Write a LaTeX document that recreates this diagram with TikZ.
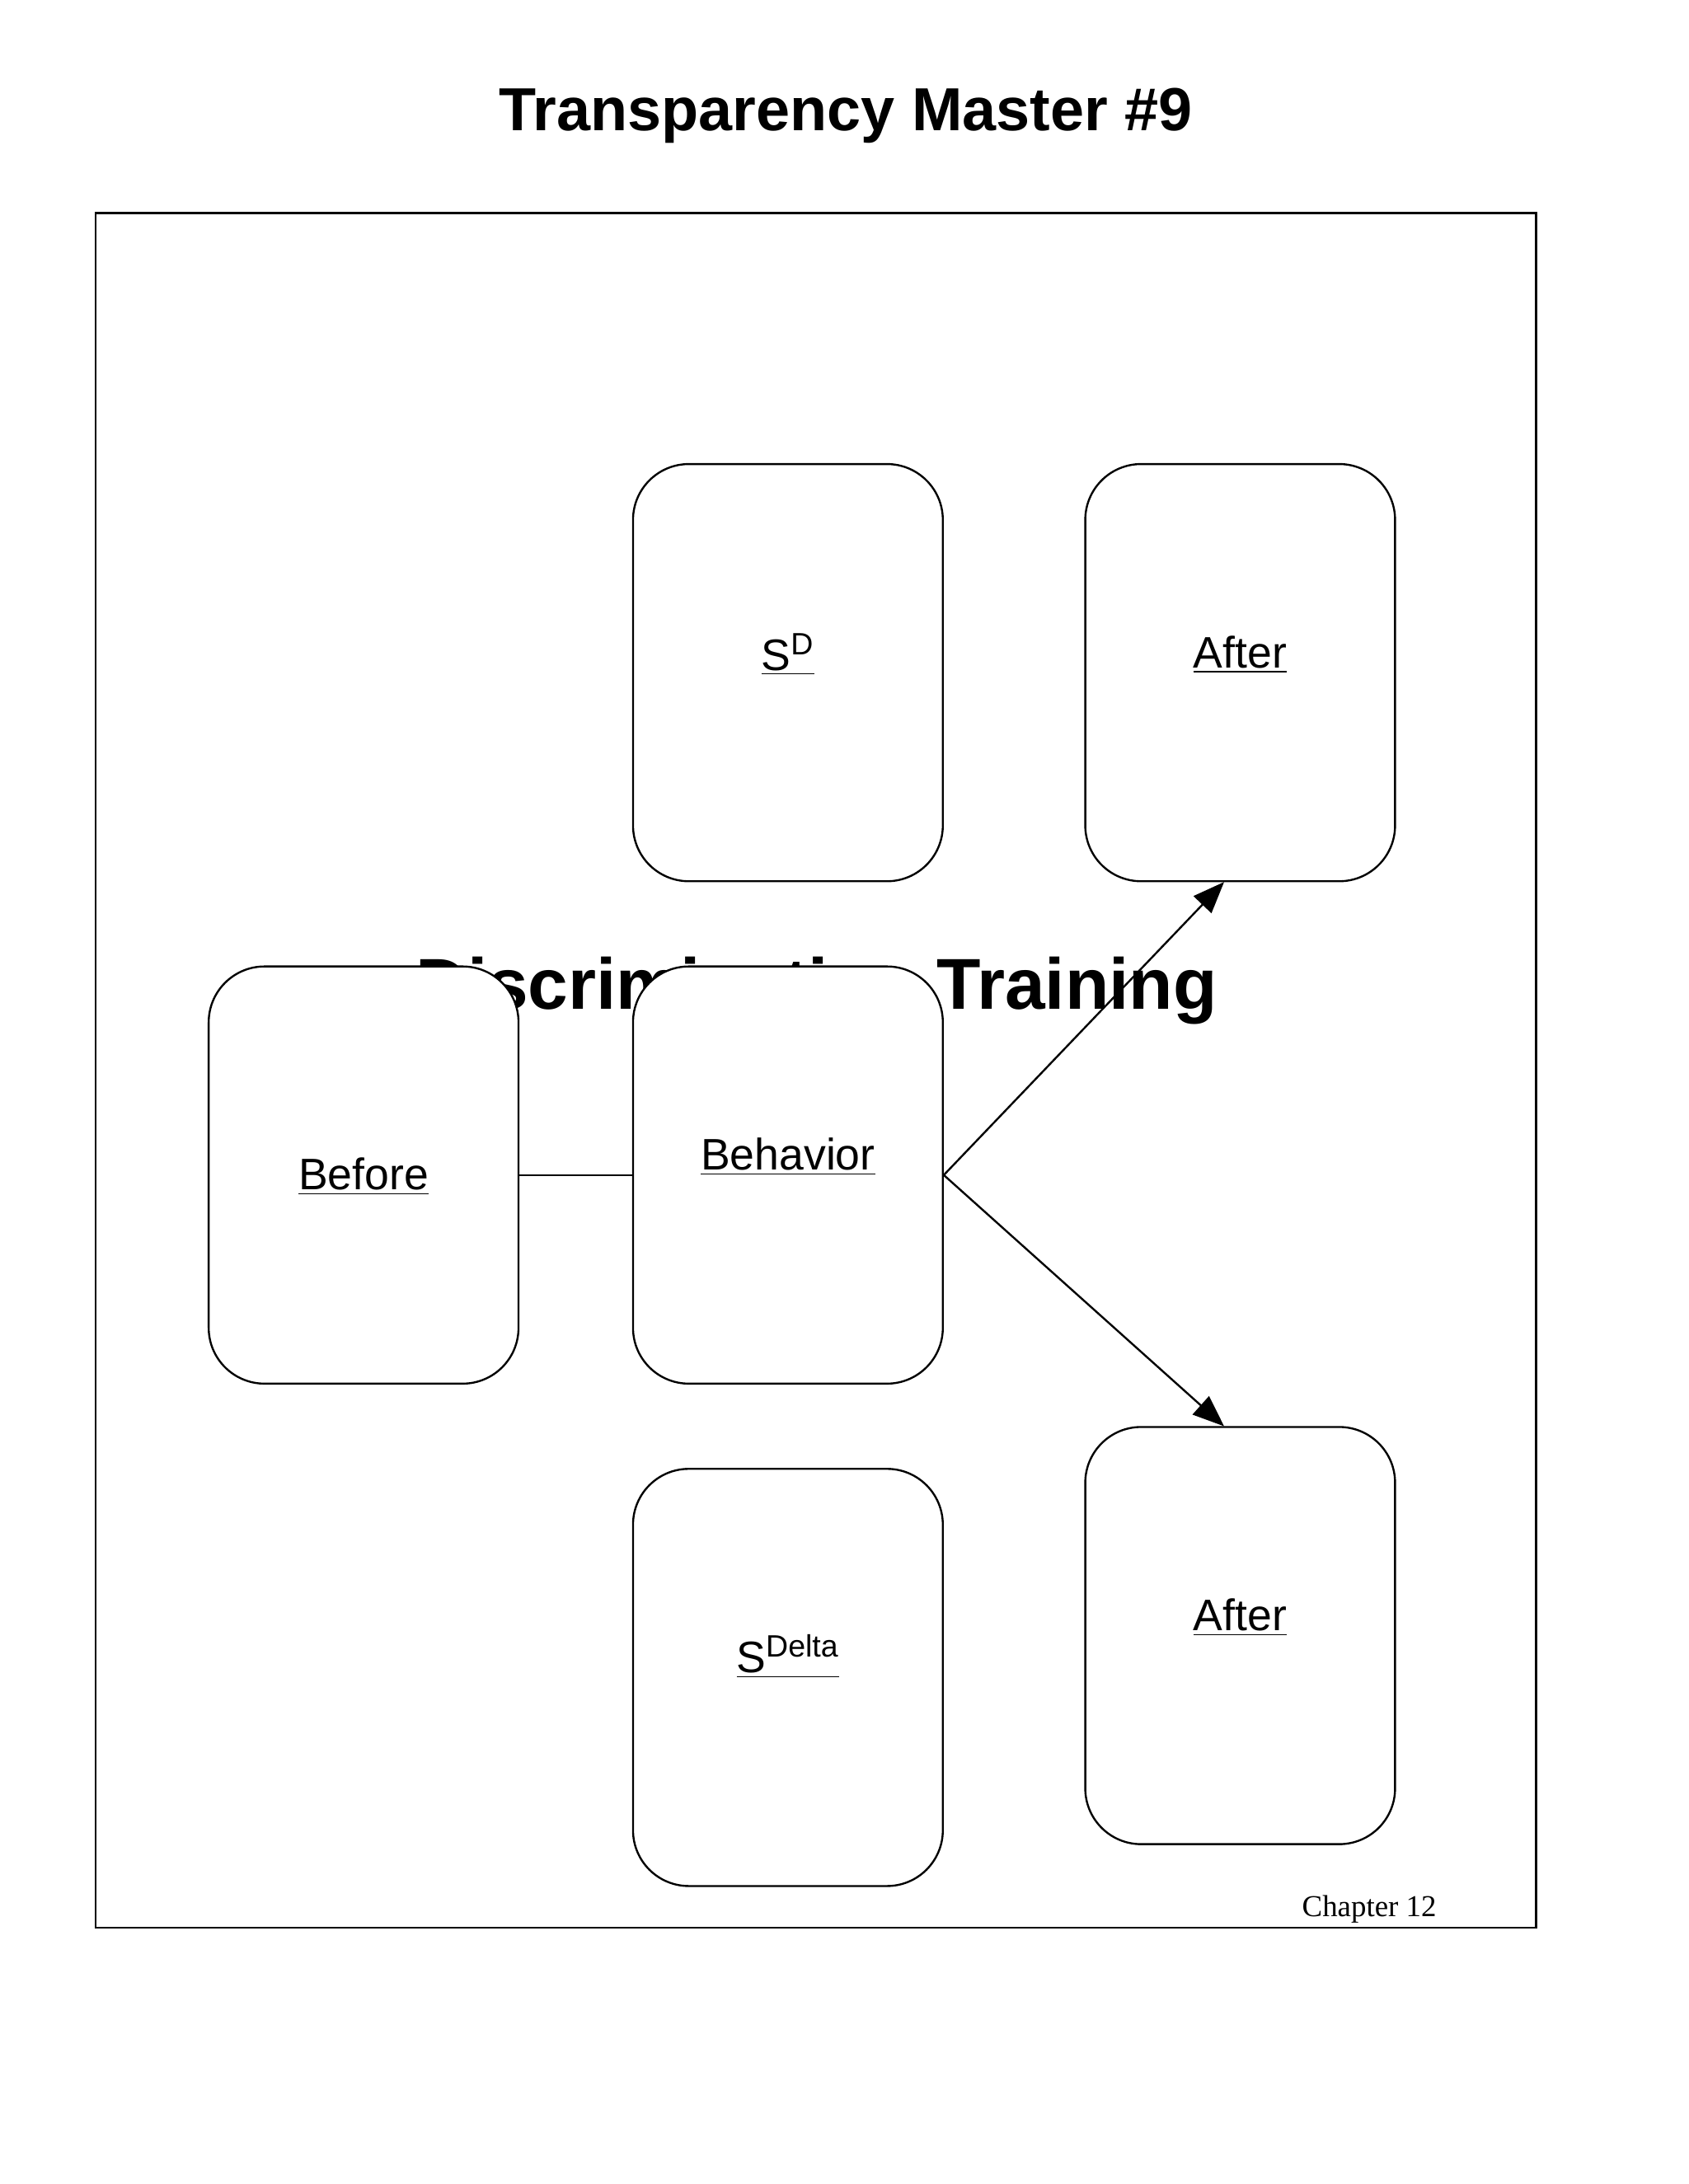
\documentclass[tikz,border=0pt]{standalone}
\usepackage{fontspec}
\setmainfont{Liberation Sans}
\newfontfamily\timesf{Liberation Serif}
\usetikzlibrary{arrows.meta}
\begin{document}
\begin{tikzpicture}[x=0.02cm,y=-0.02cm,
  box/.style={draw,line width=0.8pt,fill=white,rounded corners=0.8cm,minimum width=4.44cm,minimum height=5.98cm,inner sep=0pt},
  lbl/.style={font=\fontsize{18}{21}\selectfont},
  conn/.style={line width=0.8pt},
  arr/.style={conn,-{Triangle[length=0.45cm,width=0.35cm]}}]
\useasboundingbox (0,0) rectangle (1210,1565);
\node[font=\bfseries\fontsize{24.8}{30}\selectfont] (title) at (606,83) {Transparency Master \#9};
\node[draw,line width=0.8pt,minimum width=20.64cm,minimum height=24.58cm,inner sep=0pt] (frame) at (584.5,767) {};
\node[font=\bfseries\fontsize{29.4}{34}\selectfont] (dt) at (585,710) {Discrimination Training};
\node[box] (sd) at (564.5,482) {};
\node[box] (a1) at (888.5,482) {};
\node[box] (before) at (260.5,842) {};
\node[box] (beh) at (564.5,842) {};
\node[box] (sdel) at (564.5,1202) {};
\node[box] (a2) at (888.5,1172) {};
\node[lbl] (tsd) at (564.5,469) {\underline{S\textsuperscript{D}}};
\node[lbl] (ta1) at (888.5,469) {\underline{After}};
\node[lbl] (tbef) at (260.5,843) {\underline{Before}};
\node[lbl] (tbeh) at (564.5,829) {\underline{Behavior}};
\node[lbl] (tsdel) at (564.5,1187) {\underline{S\textsuperscript{Delta}}};
\node[lbl] (ta2) at (888.5,1159) {\underline{After}};
\node[font=\timesf\fontsize{12.4}{15}\selectfont] (ch) at (981,1368) {Chapter 12};
\coordinate (a1b) at (877,632);
\coordinate (a2t) at (877,1022);
\draw[conn] (before.east) -- (beh.west);
\draw[arr] (beh.east) -- (a1b);
\draw[arr] (beh.east) -- (a2t);
\end{tikzpicture}
\end{document}
